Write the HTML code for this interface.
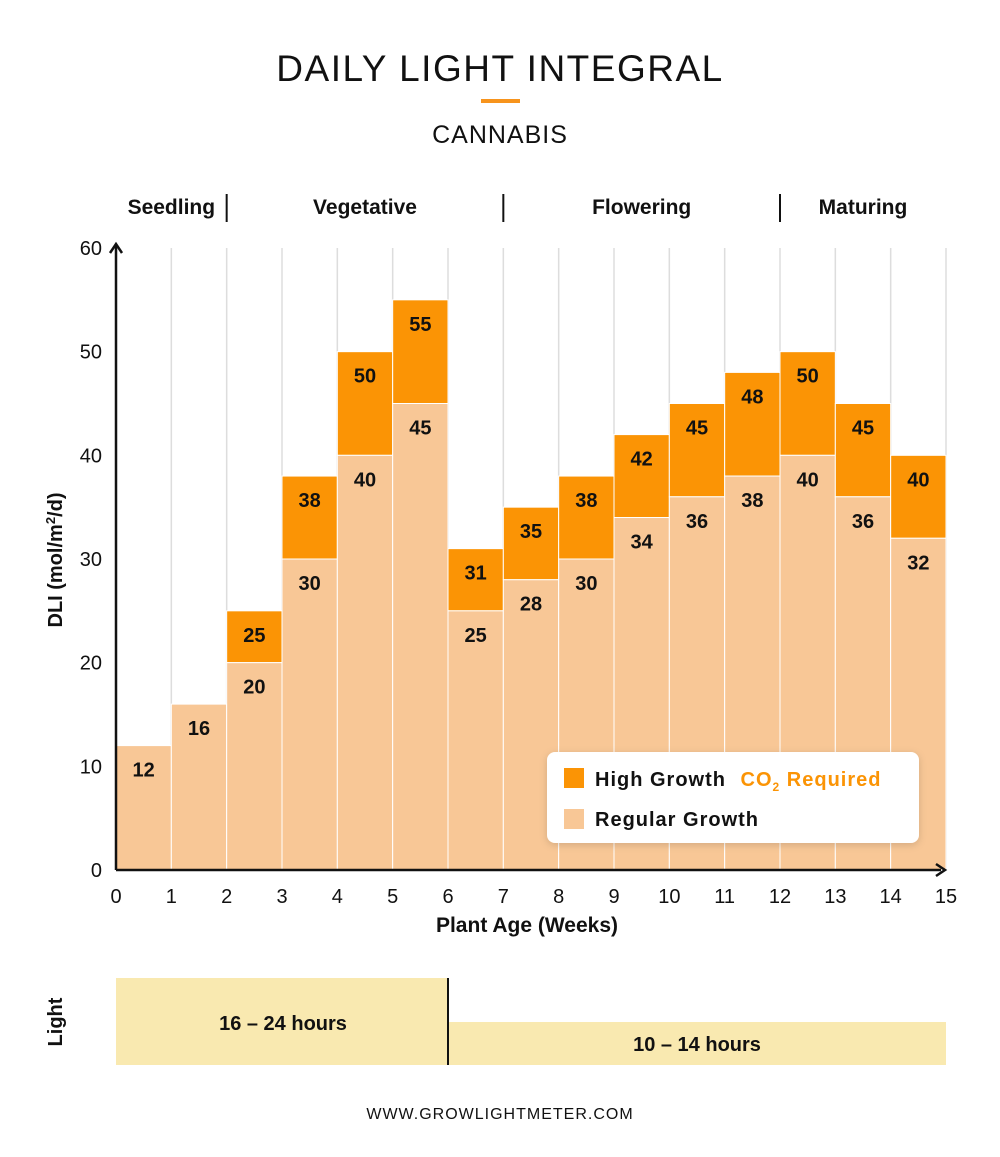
<!DOCTYPE html>
<html><head><meta charset="utf-8"><style>
body{margin:0;background:#fff;}
svg text{font-family:"Liberation Sans",sans-serif;}
</style></head><body>
<svg id="c" width="1000" height="1152" viewBox="0 0 1000 1152" xmlns="http://www.w3.org/2000/svg">
<defs><filter id="sh" x="-10%" y="-20%" width="120%" height="150%"><feDropShadow dx="0" dy="2" stdDeviation="4" flood-opacity="0.15"/></filter></defs>
<text x="500" y="81" text-anchor="middle" font-size="37" fill="#111" letter-spacing="1.5">DAILY LIGHT INTEGRAL</text>
<rect x="481" y="99" width="39" height="4" fill="#f7941d"/>
<text x="500" y="143" text-anchor="middle" font-size="25" fill="#111" letter-spacing="1">CANNABIS</text>
<g id="phases"></g>
<g id="grid"></g>
<g id="bars"></g>
<g id="axes"></g>
<g>
<rect x="547" y="752" width="372" height="91" rx="8" fill="#fff" filter="url(#sh)"/>
<rect x="564" y="768" width="20" height="20" fill="#fb9405"/>
<text x="595" y="786" font-size="20" font-weight="bold" fill="#111" letter-spacing="1">High Growth <tspan fill="#fb9405" dx="8">CO</tspan><tspan fill="#fb9405" font-size="12" dy="5">2</tspan><tspan fill="#fb9405" dy="-5"> Required</tspan></text>
<rect x="564" y="809" width="20" height="20" fill="#f8c796"/>
<text x="595" y="826" font-size="20" font-weight="bold" fill="#111" letter-spacing="1">Regular Growth</text>
</g>
<text transform="translate(62,1022) rotate(-90)" text-anchor="middle" font-size="20" font-weight="bold" fill="#111">Light</text>
<rect x="116" y="978" width="332" height="87" fill="#f9e9b0"/>
<rect x="448" y="1022" width="498" height="43" fill="#f9e9b0"/>
<line x1="448" y1="978" x2="448" y2="1065" stroke="#111" stroke-width="2"/>
<text x="283" y="1030" text-anchor="middle" font-size="20" font-weight="bold" fill="#111">16 – 24 hours</text>
<text x="697" y="1051" text-anchor="middle" font-size="20" font-weight="bold" fill="#111">10 – 14 hours</text>
<text x="500" y="1119" text-anchor="middle" font-size="16" fill="#111" letter-spacing="1">WWW.GROWLIGHTMETER.COM</text>
</svg>
<script>
const weeks=[0,1,2,3,4,5,6,7,8,9,10,11,12,13,14];
const regular=[12,16,20,30,40,45,25,28,30,34,36,38,40,36,32];
const high=[null,null,25,38,50,55,31,35,38,42,45,48,50,45,40];
const yTicks=[0,10,20,30,40,50,60];
const xTicks=[0,1,2,3,4,5,6,7,8,9,10,11,12,13,14,15];
const phaseNames=["Seedling","Vegetative","Flowering","Maturing"];
const phaseStarts=[0,2,7,12];
const phaseEnds=[2,7,12,15];
const NS="http://www.w3.org/2000/svg";
const X=w=>116+w*(830/15);
const Y=v=>870-v*(622/60);
function mk(p,t,a){const e=document.createElementNS(NS,t);for(const k in a)e.setAttribute(k,a[k]);p.appendChild(e);return e;}
const grid=document.getElementById('grid'),bars=document.getElementById('bars'),axes=document.getElementById('axes'),ph=document.getElementById('phases');
xTicks.forEach(t=>{if(t>0){const l=mk(grid,'line',{x1:X(t),x2:X(t),y1:Y(60),y2:870,stroke:'#ddd','stroke-width':1.5});

}});
weeks.forEach((w,i)=>{
 const x=X(w),bw=X(w+1)-X(w);
 if(high[i]!=null){const r=mk(bars,'rect',{x:x,y:Y(high[i]),width:bw,height:Y(regular[i])-Y(high[i]),fill:'#fb9405',stroke:'#fff','stroke-width':1});
 
 
 const t=mk(bars,'text',{x:x+bw/2,y:Y(high[i])+31,'text-anchor':'middle','font-size':20,'font-weight':'bold',fill:'#111'});t.textContent=high[i];
 
 }
 const r2=mk(bars,'rect',{x:x,y:Y(regular[i]),width:bw,height:870-Y(regular[i]),fill:'#f8c796',stroke:'#fff','stroke-width':1});
 
 
 const t2=mk(bars,'text',{x:x+bw/2,y:Y(regular[i])+31,'text-anchor':'middle','font-size':20,'font-weight':'bold',fill:'#111'});t2.textContent=regular[i];
 
 
});
mk(axes,'line',{x1:116,y1:870,x2:941,y2:870,stroke:'#111','stroke-width':2.5});
mk(axes,'path',{d:'M936,864 L945,870 L936,876',fill:'none',stroke:'#111','stroke-width':2.5});
mk(axes,'line',{x1:116,y1:870,x2:116,y2:245,stroke:'#111','stroke-width':2.5});
mk(axes,'path',{d:'M110,253 L116,244 L122,253',fill:'none',stroke:'#111','stroke-width':2.5});
yTicks.forEach(v=>{const t=mk(axes,'text',{x:102,y:Y(v)+7,'text-anchor':'end','font-size':20,fill:'#111'});t.textContent=v;

});
xTicks.forEach(v=>{const t=mk(axes,'text',{x:X(v),y:903,'text-anchor':'middle','font-size':20,fill:'#111'});t.textContent=v;

});
const xt=mk(axes,'text',{x:527,y:932,'text-anchor':'middle','font-size':21,'font-weight':'bold',fill:'#111'});xt.textContent='Plant Age (Weeks)';


const yt=mk(axes,'text',{transform:'translate(62,560) rotate(-90)','text-anchor':'middle','font-size':20,'font-weight':'bold',fill:'#111'});
yt.innerHTML='DLI (mol/m<tspan font-size="13" dy="-7">2</tspan><tspan dy="7">/d)</tspan>';


phaseNames.forEach((n,i)=>{const t=mk(ph,'text',{x:(X(phaseStarts[i])+X(phaseEnds[i]))/2,y:214,'text-anchor':'middle','font-size':21,'font-weight':'bold',fill:'#111'});t.textContent=n;


if(i>0){const l=mk(ph,'line',{x1:X(phaseStarts[i]),x2:X(phaseStarts[i]),y1:194,y2:222,stroke:'#111','stroke-width':2});

}});
</script>
</body></html>
